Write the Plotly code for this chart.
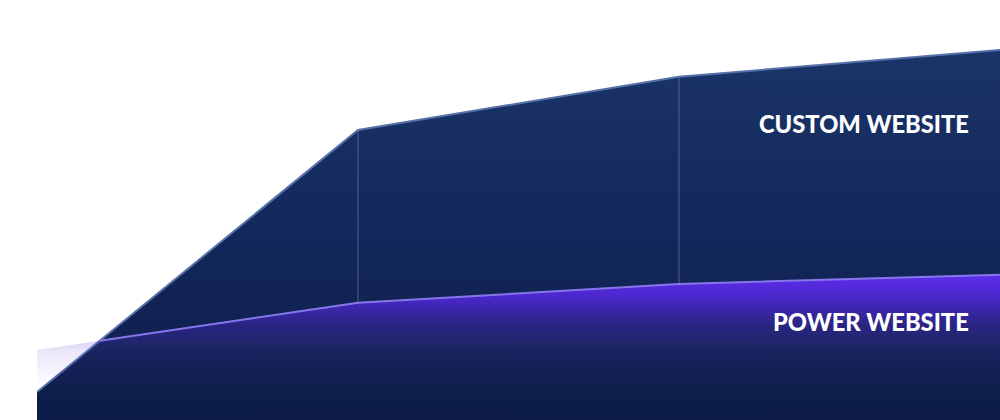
import plotly.graph_objects as go

# x positions of the four steps (0-105 scale)
steps = [0, 1, 2, 3]
custom_site = [7.0, 72.5, 85.8, 92.5]
power_site = [17.5, 29.3, 34.0, 36.3]
labels = ["CUSTOM WEBSITE", "POWER WEBSITE"]

fig = go.Figure()

# custom website area (dark navy)
fig.add_trace(go.Scatter(
    x=steps, y=custom_site,
    mode="lines",
    fill="tozeroy",
    line=dict(color="#5670a8", width=2),
    fillgradient=dict(
        type="vertical",
        start=0,
        stop=max(custom_site),
        colorscale=[[0, "#0d1c48"], [0.6, "#142a5e"], [1, "#1b3469"]],
    ),
    hoverinfo="skip",
    showlegend=False,
))

# power website area, purple fading out towards the bottom
fig.add_trace(go.Scatter(
    x=steps, y=power_site,
    mode="none",
    fill="tozeroy",
    fillgradient=dict(
        type="vertical",
        start=0,
        stop=max(power_site),
        colorscale=[
            [0, "rgba(90,45,230,0)"],
            [0.22, "rgba(90,45,230,0)"],
            [0.48, "rgba(95,60,215,0.13)"],
            [0.65, "rgba(80,40,210,0.38)"],
            [0.85, "rgba(85,40,225,0.85)"],
            [1, "rgba(95,45,238,1)"],
        ],
    ),
    hoverinfo="skip",
    showlegend=False,
))

# power outline only where it sits on top of the custom area
d0 = power_site[0] - custom_site[0]
d1 = power_site[1] - custom_site[1]
t = d0 / (d0 - d1)
cross_x = steps[0] + t * (steps[1] - steps[0])
cross_y = power_site[0] + t * (power_site[1] - power_site[0])
fig.add_trace(go.Scatter(
    x=[cross_x] + steps[1:], y=[cross_y] + power_site[1:],
    mode="lines",
    line=dict(color="#8676ea", width=2),
    hoverinfo="skip",
    showlegend=False,
))

# thin dividers between the two curves at the middle steps
div_x, div_y = [], []
for i in steps[1:-1]:
    div_x += [steps[i], steps[i], None]
    div_y += [power_site[i], custom_site[i], None]
fig.add_trace(go.Scatter(
    x=div_x, y=div_y,
    mode="lines",
    line=dict(color="rgba(150,170,220,0.45)", width=1),
    hoverinfo="skip",
    showlegend=False,
))

label_y = [custom_site[-1] - 18.5, power_site[-1] - 11.8]
for text, ly in zip(labels, label_y):
    fig.add_annotation(
        x=0.97, xref="paper", xanchor="right",
        y=ly, yref="y", yanchor="middle",
        text=text, showarrow=False,
        font=dict(family="Lato", size=23.7, color="white", weight=900),
    )

fig.update_layout(
    width=1000,
    height=420,
    margin=dict(l=37, r=0, t=0, b=0),
    paper_bgcolor="white",
    plot_bgcolor="white",
    xaxis=dict(range=[0, 3], visible=False, fixedrange=True),
    yaxis=dict(range=[0, 105], visible=False, fixedrange=True),
)

# drop the default page margin so the figure sits at the window corner
fig.write_html(
    "out.html",
    config={"displayModeBar": False},
    post_script="document.body.style.margin='0';document.body.style.overflow='hidden';",
)
